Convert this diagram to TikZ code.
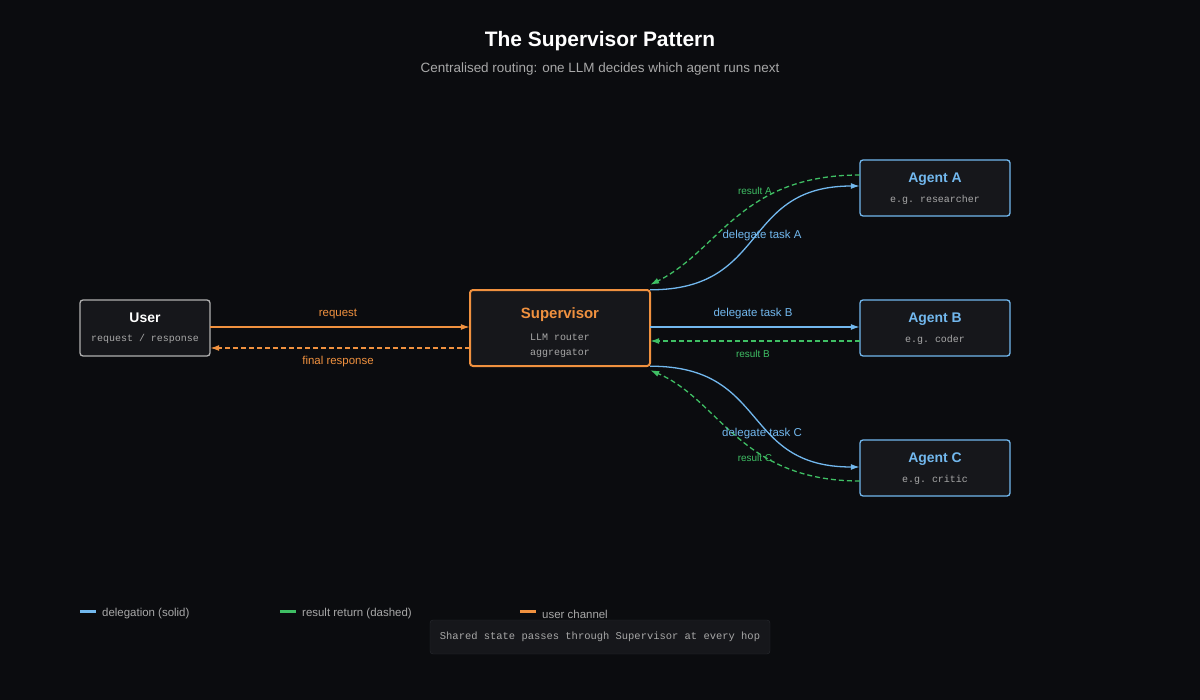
\documentclass[tikz,border=0pt]{standalone}
\usepackage{fontspec}
\setmainfont{Liberation Sans}
\setmonofont{Liberation Mono}
\usetikzlibrary{arrows.meta,calc}
\definecolor{bg}{HTML}{0B0C0F}
\definecolor{boxf}{HTML}{16171B}
\definecolor{orng}{HTML}{F0913F}
\definecolor{blu}{HTML}{72B8EE}
\definecolor{grn}{HTML}{3FBF64}
\definecolor{gry}{HTML}{A8A8A8}
\definecolor{ubord}{HTML}{B0B0B0}
\definecolor{nbord}{HTML}{2A2C31}
\begin{document}
\begin{tikzpicture}[x=1bp,y=-1bp,
  box/.style={draw, fill=boxf, rounded corners=3bp, line width=1.3bp},
  ttl/.style={font=\fontsize{14}{16}\selectfont\bfseries},
  sub/.style={font=\ttfamily\fontsize{10}{13}\selectfont, text=gry},
  lab/.style={font=\fontsize{11.5}{13}\selectfont},
  slab/.style={font=\fontsize{10}{12}\selectfont, text=grn},
  arr/.style={line width=1.3bp,-{Latex[length=9bp,width=6bp]}},
  dsh/.style={arr, dash pattern=on 5bp off 3bp}]
\fill[bg] (0,0) rectangle (1200,700);
\useasboundingbox (0,0) rectangle (1200,700);
\node[font=\fontsize{21}{24}\selectfont\bfseries, text=white] (title) at (600,41) {The Supervisor Pattern};
\node[font=\fontsize{13.5}{16}\selectfont, text=gry] (subt) at (600,69) {Centralised routing: one LLM decides which agent runs next};
% boxes
\draw[box, draw=ubord] (80,300) rectangle (210,356);
\node (user) at (145,328) [minimum width=130bp, minimum height=56bp] {};
\node[ttl, text=white] (ut) at (145,318) {User};
\node[sub] (us) at (145,339) {request / response};
\draw[box, draw=orng, line width=2bp] (470,290) rectangle (650,366);
\node (sup) at (560,328) [minimum width=180bp, minimum height=76bp, inner sep=0] {};
\node[ttl, text=orng, font=\fontsize{15}{17}\selectfont\bfseries] (st) at (560,315) {Supervisor};
\node[sub] (s1) at (560,337) {LLM router};
\node[sub] (s2) at (560,353) {aggregator};
\foreach \n/\y/\s in {A/160/researcher, B/300/coder, C/440/critic}{
  \draw[box, draw=blu] (860,\y) rectangle (1010,\y+56);
  \node[minimum width=150bp, minimum height=56bp, inner sep=0] (ag\n) at (935,\y+28) {};
  \node[ttl, text=blu] (ag\n t) at (935,\y+19) {Agent \n};
  \node[sub] (ag\n s) at (935,\y+40) {e.g. \s};
}
% user channel
\draw[arr, orng] ([yshift=1bp]user.east) -- ([yshift=1bp]sup.west);
\node[lab, text=orng] (lreq) at (338,314) {request};
\draw[dsh, orng] ([yshift=-20bp]sup.west) -- ([yshift=-20bp]user.east);
\node[lab, text=orng] (lfin) at (338,362) {final response};
% agent A
\draw[arr, blu] (sup.north east) .. controls (770,290) and (740,186) .. ([yshift=2bp]agA.west);
\draw[dsh, grn] ([yshift=13bp]agA.west) .. controls (740,175) and (720,250) .. ([yshift=5bp]sup.north east);
\node[lab, text=blu] (la) at (762,236) {delegate task A};
\node[slab] (ra) at (755,191) {result A};
% agent B
\draw[arr, blu] ([yshift=1bp]sup.east) -- ([yshift=1bp]agB.west);
\draw[dsh, grn] ([yshift=-13bp]agB.west) -- ([yshift=-13bp]sup.east);
\node[lab, text=blu] (lb) at (753,314) {delegate task B};
\node[slab] (rb) at (753,354) {result B};
% agent C
\draw[arr, blu] (sup.south east) .. controls (770,366) and (740,467) .. ([yshift=1bp]agC.west);
\draw[dsh, grn] ([yshift=-13bp]agC.west) .. controls (740,481) and (720,400) .. ([yshift=-4bp]sup.south east);
\node[lab, text=blu] (lc) at (762,434) {delegate task C};
\node[slab] (rc) at (755,458) {result C};
% legend
\draw[blu, line width=3bp] (80,611) -- (96,611);
\node[lab, text=gry, anchor=west, inner sep=0] (l1) at (102,614) {delegation (solid)};
\draw[grn, line width=3bp] (280,611) -- (296,611);
\node[lab, text=gry, anchor=west, inner sep=0] (l2) at (302,614) {result return (dashed)};
\draw[orng, line width=3bp] (520,611) -- (536,611);
\node[lab, text=gry, anchor=west, inner sep=0] (l3) at (542,614) {user channel};
\draw[fill=boxf, draw=nbord, rounded corners=3bp] (430,620) rectangle (770,654);
\node[sub, font=\ttfamily\fontsize{10.5}{12}\selectfont] (note) at (600,637) {Shared state passes through Supervisor at every hop};
\end{tikzpicture}
\end{document}
